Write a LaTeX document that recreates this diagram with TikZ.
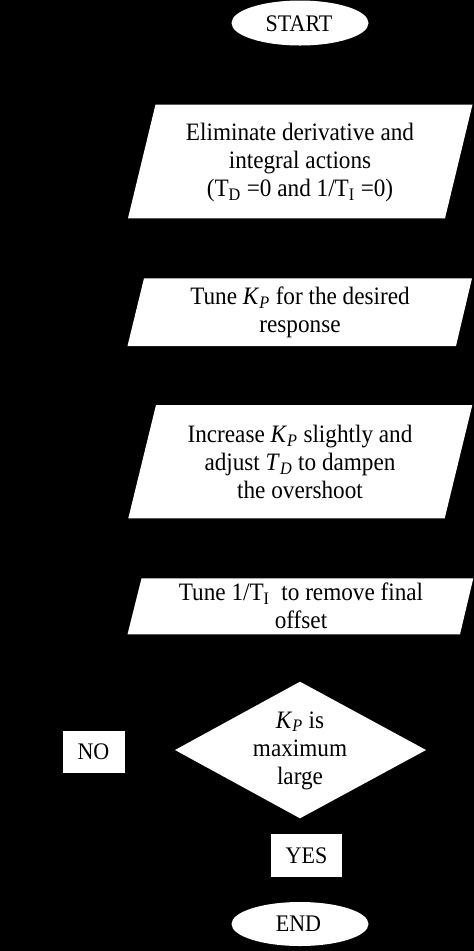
\documentclass[tikz,border=0pt]{standalone}
\usepackage{fontspec}
\setmainfont{Liberation Serif}
\tikzset{
  shapefill/.style={fill=white},
  txt/.style={align=center, inner sep=0pt, text=black, yscale=1.08,
    font=\fontsize{16.5}{19.4}\selectfont},
  bigtxt/.style={txt, font=\fontsize{17.4}{19.4}\selectfont}
}
\newcommand{\KP}{\textit{K}\textsubscript{\textit{P}}}
\begin{document}
\begin{tikzpicture}[x=0.75pt, y=-0.75pt]
  % background
  \fill[black] (0,0) rectangle (474,951);
  \useasboundingbox (0,0) rectangle (474,951);
  \begin{scope}
  \clip (0,0) rectangle (474,951);
  % shapes
  \fill[shapefill] (300,23) ellipse [x radius=68.5, y radius=22.5];
  \fill[shapefill] (128,218.3) -- (445,218.3) -- (472.5,104.5) -- (155.5,104.5) -- cycle;
  \fill[shapefill] (127.5,346) -- (456,346) -- (472,278.3) -- (144,278.3) -- cycle;
  \fill[shapefill] (128.3,518.3) -- (444.7,518.3) -- (472.3,405) -- (156,405) -- cycle;
  \fill[shapefill] (127.5,634.3) -- (460,634.3) -- (473.3,578.3) -- (141.5,578.3) -- cycle;
  \fill[shapefill] (300,681.7) -- (426,750) -- (300,818.3) -- (175,750) -- cycle;
  \fill[shapefill] (62.7,731) rectangle (124.7,772.7);
  \fill[shapefill] (270.7,834.3) rectangle (342.3,876.7);
  \fill[shapefill] (300,924) ellipse [x radius=68.5, y radius=22];
  \end{scope}
  % texts
  \node[txt] (start) at (299,23.5) {START};
  \node[bigtxt] (p1) at (300,162.5) {Eliminate derivative and\\integral actions\\(T\textsubscript{D} =0 and 1/T\textsubscript{I} =0)};
  \node[bigtxt] (p2) at (300,312.5) {Tune \KP{} for the desired\\response};
  \node[bigtxt] (p3) at (300,462) {Increase \KP{} slightly and\\adjust \textit{T}\textsubscript{\textit{D}} to dampen\\the overshoot};
  \node[bigtxt] (p4) at (301,606) {Tune 1/T\textsubscript{I}\ \ to remove final\\offset};
  \node[bigtxt] (dec) at (300,750.5) {\KP{} is\\maximum\\large};
  \node[txt] (no) at (93.5,752) {NO};
  \node[txt] (yes) at (306.5,856) {YES};
  \node[txt] (end) at (298.5,924) {END};
\end{tikzpicture}
\end{document}
